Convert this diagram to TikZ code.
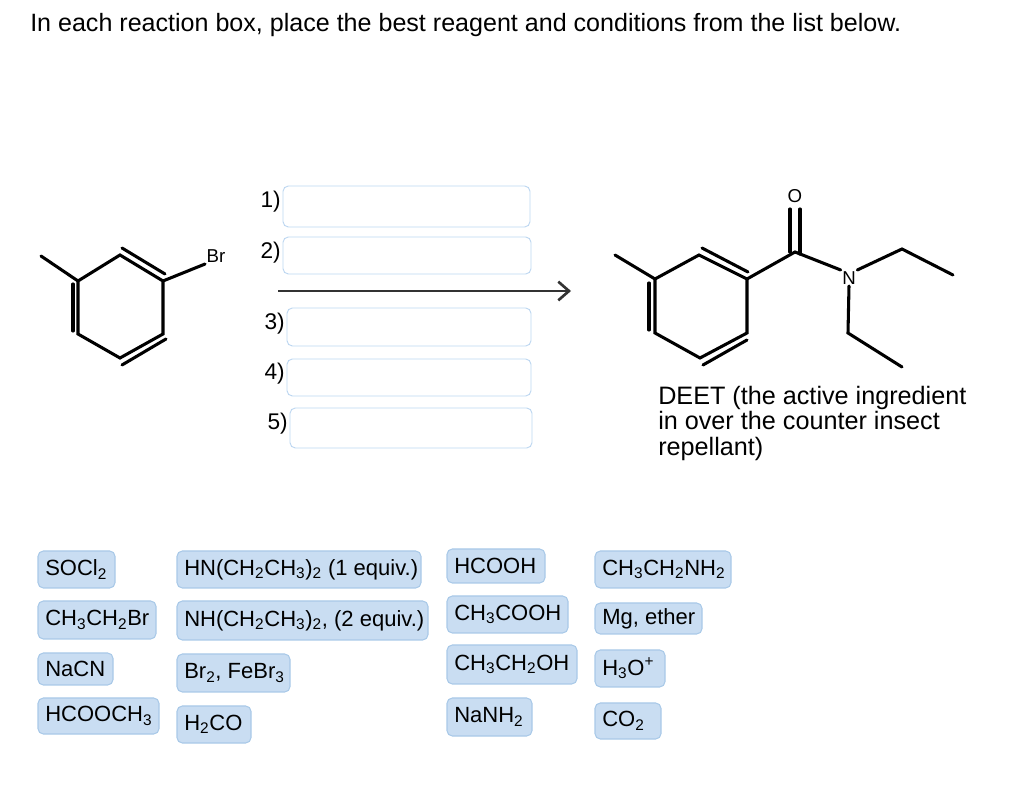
\documentclass[tikz,border=0pt]{standalone}
\usepackage{fontspec}
\setmainfont{Liberation Sans}
\usetikzlibrary{arrows.meta}
\definecolor{chipfill}{HTML}{C9DDF2}
\definecolor{chipdraw}{HTML}{A9C9E8}
\definecolor{boxdraw}{HTML}{BCD6F0}
\tikzset{
  bond/.style={line width=2.3pt,line cap=round},
  chipbox/.style={fill=chipfill,draw=chipdraw,line width=0.8pt,rounded corners=4pt},
  chiptxt/.style={font=\fontsize{16.5}{19}\selectfont,inner sep=0pt,anchor=west},
  ansbox/.style={draw=boxdraw,line width=0.7pt,rounded corners=4pt},
  numtxt/.style={font=\fontsize{17}{19}\selectfont,inner sep=0pt,anchor=east},
}
\newcommand{\chipmk}[6]{\draw[chipbox] (#2,#3) rectangle (#4,#5);
  \node[chiptxt] (#1) at (#2+7,{(#3+#5)/2}) {#6};}
\newcommand{\ansmk}[7]{\draw[ansbox] (#2,#3) rectangle (#4,#5);
  \node[numtxt] (#1) at (#2-2,#6) {#7};}
\begin{document}
\begin{tikzpicture}[x=0.75pt,y=-0.75pt]
\useasboundingbox (0,0) rectangle (1036,812);
\node[anchor=west,inner sep=0pt,font=\fontsize{18.8}{22}\selectfont] (title) at (30,25) {In each reaction box, place the best reagent and conditions from the list below.};
% left molecule
\coordinate (m1) at (41,256);
\coordinate (a1) at (78,281);
\coordinate (a2) at (120,255);
\coordinate (a3) at (163,281);
\coordinate (a4) at (163,334);
\coordinate (a5) at (120,358);
\coordinate (a6) at (78,334);
\node[inner sep=1pt,font=\fontsize{14}{16}\selectfont] (br) at (216,256) {Br};
\draw[bond] (m1)--(a1);
\draw[bond] (a1)--(a2)--(a3)--(a4)--(a5)--(a6)--cycle;
\draw[bond] (a3)--(br.south west);
\draw[bond] (73,284)--(73,331);
\draw[bond] (122,248)--(165,274);
\draw[bond] (122,365)--(166,339);
% boxes
\ansmk{n1}{283}{186}{530}{227}{202}{1)}
\ansmk{n2}{283}{237}{531}{274}{253}{2)}
\ansmk{n3}{287}{308}{531}{346}{324}{3)}
\ansmk{n4}{287}{359}{531}{396}{374}{4)}
\ansmk{n5}{290}{408}{532}{448}{424}{5)}
\coordinate (ars) at (278,291);
\coordinate (are) at (571,291);
\draw[line width=2.2pt,color=black!80,-{Straight Barb[length=8pt,width=14pt,line width=2pt]}] (ars)--(are);
% DEET
\coordinate (m2) at (615,255);
\coordinate (b1) at (655,279);
\coordinate (b2) at (699,255);
\coordinate (b3) at (747,279);
\coordinate (b4) at (747,333);
\coordinate (b5) at (700,358);
\coordinate (b6) at (655,333);
\coordinate (cc) at (795,252);
\node[inner sep=1pt,font=\fontsize{14}{16}\selectfont] (o) at (795,196) {O};
\node[inner sep=1pt,font=\fontsize{14}{16}\selectfont] (n) at (849,278) {N};
\draw[bond] (m2)--(b1);
\draw[bond] (b1)--(b2)--(b3)--(b4)--(b5)--(b6)--cycle;
\draw[bond] (649,283)--(649,330);
\draw[bond] (702,248)--(748,272);
\draw[bond] (703,365)--(747,340);
\draw[bond] (b3)--(cc)--(n.north west);
\draw[bond] (790,252)--(790,209);
\draw[bond] (800,254)--(800,209);
\draw[bond] (n.north east)--(902,249)--(953,275);
\draw[bond] (n.south)--(848,333)--(902,367);
\node[anchor=north west,align=left,inner sep=0pt,font=\fontsize{18.9}{19}\selectfont] (deet) at (658,386) {DEET (the active ingredient\\in over the counter insect\\repellant)};
% chips
\chipmk{c1}{38}{551}{115}{588}{SOCl\textsubscript{2}}
\chipmk{c2}{38}{601}{156}{639}{CH\textsubscript{3}CH\textsubscript{2}Br}
\chipmk{c3}{38}{653}{113}{685}{NaCN}
\chipmk{c4}{38}{698}{159}{734}{HCOOCH\textsubscript{3}}
\chipmk{c5}{177}{551}{421}{588}{HN(CH\textsubscript{2}CH\textsubscript{3})\textsubscript{2} (1 equiv.)}
\chipmk{c6}{177}{601}{428}{640}{NH(CH\textsubscript{2}CH\textsubscript{3})\textsubscript{2}, (2 equiv.)}
\chipmk{c7}{177}{654}{290}{692}{Br\textsubscript{2}, FeBr\textsubscript{3}}
\chipmk{c8}{177}{706}{251}{743}{H\textsubscript{2}CO}
\chipmk{c9}{447}{549}{545}{583}{HCOOH}
\chipmk{c10}{447}{596}{568}{633}{CH\textsubscript{3}COOH}
\chipmk{c11}{447}{645}{577}{684}{CH\textsubscript{3}CH\textsubscript{2}OH}
\chipmk{c12}{447}{698}{532}{736}{NaNH\textsubscript{2}}
\chipmk{c13}{595}{551}{731}{588}{CH\textsubscript{3}CH\textsubscript{2}NH\textsubscript{2}}
\chipmk{c14}{595}{603}{702}{634}{Mg, ether}
\chipmk{c15}{595}{650}{665}{687}{H\textsubscript{3}O\textsuperscript{+}}
\chipmk{c16}{595}{703}{661}{739}{CO\textsubscript{2}}
\end{tikzpicture}
\end{document}
